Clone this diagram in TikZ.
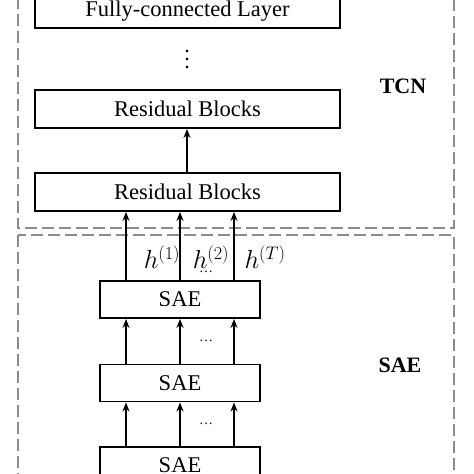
\RequirePackage{fix-cm}
\documentclass[tikz,border=0pt]{standalone}
\usepackage{fontspec}
\setmainfont{Liberation Serif}
\usepackage{amsmath}
\usetikzlibrary{arrows.meta,positioning}
\definecolor{dashgray}{RGB}{140,140,140}

\begin{document}
\begin{tikzpicture}[x=1pt,y=-1pt,
		blk/.style={draw,line width=1.9pt,font=\fontsize{22.5}{24}\selectfont,inner sep=0pt},
		arr/.style={-{Stealth[length=9pt,width=7pt]},line width=1.5pt},
		frame/.style={draw=dashgray,line width=1.8pt,dash pattern=on 12pt off 5pt},
		tag/.style={font=\fontsize{22}{24}\selectfont\bfseries},
		hlab/.style={font=\fontsize{26}{28}\selectfont,inner sep=1pt},
		small/.style={font=\fontsize{14}{16}\selectfont,inner sep=0pt}]
		\useasboundingbox (0,0) rectangle (474,474);
		% dashed frames
		\draw[frame] (18,-20) rectangle (454,228);
		\draw[frame] (18,235) rectangle (454,500);
		\node[tag] (tcn) at (403,86) {TCN};
		\node[tag] (sae) at (400,365) {SAE};
		% TCN part
		\node[blk,minimum width=305pt,minimum height=34pt] (fc) at (187.5,11) {Fully-connected Layer};
		\node[inner sep=0pt] (dots) at (187,60) {\vbox{\baselineskip=8pt\fontsize{22}{8}\selectfont\hbox{.}\hbox{.}\hbox{.}}};
		\node[blk,minimum width=305pt,minimum height=38pt] (rb2) at (187.5,109) {Residual Blocks};
		\node[blk,minimum width=305pt,minimum height=38pt] (rb1) at (187.5,192) {Residual Blocks};
		\draw[arr] (187,0 |- rb1.north) -- (187,0 |- rb2.south);
		% SAE part
		\node[blk,minimum width=160pt,minimum height=37pt] (sae1) at (180,299.5) {SAE};
		\node[blk,minimum width=160pt,minimum height=37pt] (sae2) at (180,383) {SAE};
		\node[blk,minimum width=160pt,minimum height=37pt] (sae3) at (180,465.5) {SAE};
		\foreach \xx in {126,180,234} {
			\draw[arr] (\xx,0 |- sae1.north) -- (\xx,0 |- rb1.south);
			\draw[arr] (\xx,0 |- sae2.north) -- (\xx,0 |- sae1.south);
			\draw[arr] (\xx,0 |- sae3.north) -- (\xx,0 |- sae2.south);
		}
		\node[hlab] (h1) at (162,257) {$h^{(1)}$};
		\node[hlab] (h2) at (211,257) {$h^{(2)}$};
		\node[hlab] (hT) at (265,257) {$h^{(T)}$};
		\node[small] (d0) at (206,272) {\ldots};
		\node[small] (d1) at (206,341) {\ldots};
		\node[small] (d2) at (206,424) {\ldots};
\end{tikzpicture}
\end{document}
